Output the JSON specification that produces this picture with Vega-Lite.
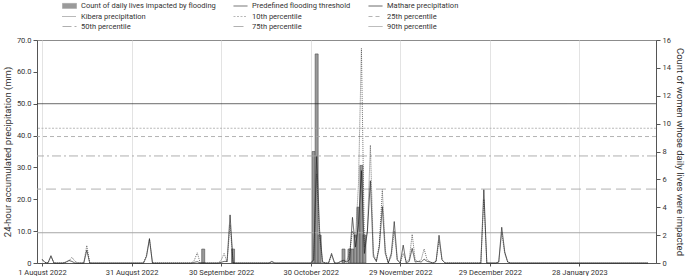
{
  "$schema": "https://vega.github.io/schema/vega-lite/v6.json",
  "width": 619,
  "height": 223,
  "autosize": {"type": "none"},
  "padding": {"left": 37, "top": 40, "right": 29, "bottom": 13},
  "config": {
    "font": "Roboto",
    "view": {"stroke": "#8c8c8c", "strokeWidth": 1},
    "axis": {"labelFontSize": 7.5, "titleFontSize": 9.5, "labelColor": "#333333", "titleColor": "#333333", "titleFontWeight": "normal", "domainColor": "#555555", "tickColor": "#555555", "tickSize": 3, "grid": false},
    "legend": {"orient": "none", "legendX": 27, "legendY": -40, "columns": 3, "direction": "horizontal", "padding": 0, "labelFontSize": 7.5, "labelColor": "#333333", "symbolSize": 100, "labelOffset": 6, "rowPadding": 1, "columnPadding": 15, "labelLimit": 400}
  },
  "datasets": {
    "counts": [
      {"series": "Count of daily lives impacted by flooding", "date": "2022-09-24", "count": 1},
      {"series": "Count of daily lives impacted by flooding", "date": "2022-10-04", "count": 1},
      {"series": "Count of daily lives impacted by flooding", "date": "2022-10-31", "count": 8},
      {"series": "Count of daily lives impacted by flooding", "date": "2022-11-01", "count": 15},
      {"series": "Count of daily lives impacted by flooding", "date": "2022-11-02", "count": 2},
      {"series": "Count of daily lives impacted by flooding", "date": "2022-11-10", "count": 1},
      {"series": "Count of daily lives impacted by flooding", "date": "2022-11-12", "count": 1},
      {"series": "Count of daily lives impacted by flooding", "date": "2022-11-13", "count": 1},
      {"series": "Count of daily lives impacted by flooding", "date": "2022-11-14", "count": 2},
      {"series": "Count of daily lives impacted by flooding", "date": "2022-11-15", "count": 4},
      {"series": "Count of daily lives impacted by flooding", "date": "2022-11-16", "count": 7},
      {"series": "Count of daily lives impacted by flooding", "date": "2022-11-17", "count": 2}
    ],
    "thresholds": [
      {"series": "Predefined flooding threshold", "value": 50},
      {"series": "10th percentile", "value": 42.3},
      {"series": "25th percentile", "value": 39.7},
      {"series": "50th percentile", "value": 33.6},
      {"series": "75th percentile", "value": 23.2},
      {"series": "90th percentile", "value": 9.5}
    ],
    "precip": [
      {"date": "2022-08-01", "Mathare precipitation": 1.2, "Kibera precipitation": 1.0},
      {"date": "2022-08-02", "Mathare precipitation": 0.2, "Kibera precipitation": 0.2},
      {"date": "2022-08-03", "Mathare precipitation": 0, "Kibera precipitation": 0},
      {"date": "2022-08-04", "Mathare precipitation": 2.3, "Kibera precipitation": 2.0},
      {"date": "2022-08-05", "Mathare precipitation": 0, "Kibera precipitation": 0},
      {"date": "2022-08-08", "Mathare precipitation": 0, "Kibera precipitation": 0},
      {"date": "2022-08-09", "Mathare precipitation": 0.3, "Kibera precipitation": 0.2},
      {"date": "2022-08-10", "Mathare precipitation": 0.8, "Kibera precipitation": 0.6},
      {"date": "2022-08-11", "Mathare precipitation": 0.5, "Kibera precipitation": 1.8},
      {"date": "2022-08-12", "Mathare precipitation": 0, "Kibera precipitation": 0.6},
      {"date": "2022-08-13", "Mathare precipitation": 0, "Kibera precipitation": 0},
      {"date": "2022-08-15", "Mathare precipitation": 0, "Kibera precipitation": 0},
      {"date": "2022-08-16", "Mathare precipitation": 4.0, "Kibera precipitation": 5.5},
      {"date": "2022-08-17", "Mathare precipitation": 0, "Kibera precipitation": 0},
      {"date": "2022-09-04", "Mathare precipitation": 0, "Kibera precipitation": 0},
      {"date": "2022-09-05", "Mathare precipitation": 2.0, "Kibera precipitation": 2.5},
      {"date": "2022-09-06", "Mathare precipitation": 7.5, "Kibera precipitation": 7.8},
      {"date": "2022-09-07", "Mathare precipitation": 0, "Kibera precipitation": 0},
      {"date": "2022-09-20", "Mathare precipitation": 0, "Kibera precipitation": 0},
      {"date": "2022-09-21", "Mathare precipitation": 0.2, "Kibera precipitation": 0.8},
      {"date": "2022-09-22", "Mathare precipitation": 0.4, "Kibera precipitation": 3.2},
      {"date": "2022-09-23", "Mathare precipitation": 0, "Kibera precipitation": 0},
      {"date": "2022-09-29", "Mathare precipitation": 0, "Kibera precipitation": 0},
      {"date": "2022-09-30", "Mathare precipitation": 0.2, "Kibera precipitation": 0.8},
      {"date": "2022-10-01", "Mathare precipitation": 0.5, "Kibera precipitation": 3.0},
      {"date": "2022-10-02", "Mathare precipitation": 0.5, "Kibera precipitation": 0.3},
      {"date": "2022-10-03", "Mathare precipitation": 15.1, "Kibera precipitation": 12.0},
      {"date": "2022-10-04", "Mathare precipitation": 0, "Kibera precipitation": 0},
      {"date": "2022-10-16", "Mathare precipitation": 0, "Kibera precipitation": 0},
      {"date": "2022-10-17", "Mathare precipitation": 0.5, "Kibera precipitation": 0.3},
      {"date": "2022-10-18", "Mathare precipitation": 0, "Kibera precipitation": 0},
      {"date": "2022-10-30", "Mathare precipitation": 0, "Kibera precipitation": 0},
      {"date": "2022-10-31", "Mathare precipitation": 1.0, "Kibera precipitation": 0.8},
      {"date": "2022-11-01", "Mathare precipitation": 33.4, "Kibera precipitation": 28.0},
      {"date": "2022-11-02", "Mathare precipitation": 10.0, "Kibera precipitation": 8.0},
      {"date": "2022-11-03", "Mathare precipitation": 0.3, "Kibera precipitation": 0.2},
      {"date": "2022-11-04", "Mathare precipitation": 0, "Kibera precipitation": 0},
      {"date": "2022-11-05", "Mathare precipitation": 0, "Kibera precipitation": 0},
      {"date": "2022-11-06", "Mathare precipitation": 3.0, "Kibera precipitation": 2.5},
      {"date": "2022-11-07", "Mathare precipitation": 0, "Kibera precipitation": 0},
      {"date": "2022-11-08", "Mathare precipitation": 0, "Kibera precipitation": 0},
      {"date": "2022-11-09", "Mathare precipitation": 0.5, "Kibera precipitation": 0.3},
      {"date": "2022-11-10", "Mathare precipitation": 0.8, "Kibera precipitation": 1.0},
      {"date": "2022-11-11", "Mathare precipitation": 0.3, "Kibera precipitation": 0.5},
      {"date": "2022-11-12", "Mathare precipitation": 1.0, "Kibera precipitation": 3.0},
      {"date": "2022-11-13", "Mathare precipitation": 14.3, "Kibera precipitation": 10.0},
      {"date": "2022-11-14", "Mathare precipitation": 5.0, "Kibera precipitation": 8.0},
      {"date": "2022-11-15", "Mathare precipitation": 12.0, "Kibera precipitation": 24.5},
      {"date": "2022-11-16", "Mathare precipitation": 29.0, "Kibera precipitation": 67.4},
      {"date": "2022-11-17", "Mathare precipitation": 3.0, "Kibera precipitation": 5.0},
      {"date": "2022-11-18", "Mathare precipitation": 10.0, "Kibera precipitation": 10.0},
      {"date": "2022-11-19", "Mathare precipitation": 25.8, "Kibera precipitation": 37.0},
      {"date": "2022-11-20", "Mathare precipitation": 2.0, "Kibera precipitation": 3.0},
      {"date": "2022-11-21", "Mathare precipitation": 0.5, "Kibera precipitation": 0.5},
      {"date": "2022-11-22", "Mathare precipitation": 5.0, "Kibera precipitation": 6.0},
      {"date": "2022-11-23", "Mathare precipitation": 17.7, "Kibera precipitation": 23.0},
      {"date": "2022-11-24", "Mathare precipitation": 3.0, "Kibera precipitation": 4.0},
      {"date": "2022-11-25", "Mathare precipitation": 0, "Kibera precipitation": 0},
      {"date": "2022-11-26", "Mathare precipitation": 3.0, "Kibera precipitation": 2.0},
      {"date": "2022-11-27", "Mathare precipitation": 13.0, "Kibera precipitation": 10.0},
      {"date": "2022-11-28", "Mathare precipitation": 1.0, "Kibera precipitation": 1.0},
      {"date": "2022-11-29", "Mathare precipitation": 0, "Kibera precipitation": 0},
      {"date": "2022-11-30", "Mathare precipitation": 5.6, "Kibera precipitation": 3.0},
      {"date": "2022-12-01", "Mathare precipitation": 0, "Kibera precipitation": 0.5},
      {"date": "2022-12-02", "Mathare precipitation": 0.5, "Kibera precipitation": 1.0},
      {"date": "2022-12-03", "Mathare precipitation": 4.6, "Kibera precipitation": 9.0},
      {"date": "2022-12-04", "Mathare precipitation": 0.3, "Kibera precipitation": 1.0},
      {"date": "2022-12-05", "Mathare precipitation": 0.5, "Kibera precipitation": 0.3},
      {"date": "2022-12-06", "Mathare precipitation": 0.3, "Kibera precipitation": 1.0},
      {"date": "2022-12-07", "Mathare precipitation": 1.2, "Kibera precipitation": 4.4},
      {"date": "2022-12-08", "Mathare precipitation": 0.5, "Kibera precipitation": 1.0},
      {"date": "2022-12-09", "Mathare precipitation": 0.3, "Kibera precipitation": 0.3},
      {"date": "2022-12-10", "Mathare precipitation": 0, "Kibera precipitation": 0},
      {"date": "2022-12-11", "Mathare precipitation": 0.5, "Kibera precipitation": 0.5},
      {"date": "2022-12-12", "Mathare precipitation": 8.7, "Kibera precipitation": 7.0},
      {"date": "2022-12-13", "Mathare precipitation": 1.0, "Kibera precipitation": 1.0},
      {"date": "2022-12-14", "Mathare precipitation": 0, "Kibera precipitation": 0},
      {"date": "2022-12-26", "Mathare precipitation": 0, "Kibera precipitation": 0},
      {"date": "2022-12-27", "Mathare precipitation": 23.0, "Kibera precipitation": 20.0},
      {"date": "2022-12-28", "Mathare precipitation": 0, "Kibera precipitation": 0},
      {"date": "2022-12-31", "Mathare precipitation": 0, "Kibera precipitation": 0},
      {"date": "2023-01-01", "Mathare precipitation": 0.3, "Kibera precipitation": 0.3},
      {"date": "2023-01-02", "Mathare precipitation": 11.2, "Kibera precipitation": 9.5},
      {"date": "2023-01-03", "Mathare precipitation": 3.5, "Kibera precipitation": 3.0},
      {"date": "2023-01-04", "Mathare precipitation": 0.3, "Kibera precipitation": 0.3},
      {"date": "2023-01-05", "Mathare precipitation": 0, "Kibera precipitation": 0},
      {"date": "2023-02-20", "Mathare precipitation": 0, "Kibera precipitation": 0}
    ]
  },
  "resolve": {"scale": {"y": "independent"}},
  "layer": [
    {
      "data": {"name": "counts"},
      "mark": {"type": "bar", "width": 3, "stroke": "#4d4d4d", "strokeWidth": 0.6},
      "encoding": {
        "x": {
          "field": "date", "type": "temporal",
          "scale": {"type": "utc", "domain": [1659312000000, 1676937600000]},
          "axis": {
            "orient": "bottom", "title": null, "format": "%-d %B %Y", "labelFlush": false,
            "grid": true, "gridColor": "#dcdcdc", "gridWidth": 0.8, "tickSize": 3,
            "values": [1659312000000, 1661904000000, 1664496000000, 1667088000000, 1669680000000, 1672272000000, 1674864000000]
          }
        },
        "y": {
          "field": "count", "type": "quantitative",
          "scale": {"domain": [0, 16], "nice": false},
          "axis": {"orient": "right", "title": "Count of women whose daily lives were impacted", "values": [0, 2, 4, 6, 8, 10, 12, 14, 16], "tickSize": 4}
        },
        "color": {
          "field": "series", "type": "nominal",
          "scale": {
            "domain": ["Count of daily lives impacted by flooding", "Predefined flooding threshold", "Mathare precipitation", "Kibera precipitation", "10th percentile", "25th percentile", "50th percentile", "75th percentile", "90th percentile"],
            "range": ["#9a9a9a", "#1a1a1a", "#1a1a1a", "#444444", "#a6a6a6", "#a6a6a6", "#a6a6a6", "#adadad", "#a6a6a6"]
          },
          "legend": {
            "title": null,
            "symbolType": "M-1.4,0H1.4",
            "encoding": {
              "labels": {"fill": {"value": "#333333"}},
              "symbols": {
                "shape": {"value": {"expr": "datum.value === 'Count of daily lives impacted by flooding' ? 'M-1.4,-0.5H1.4V0.5H-1.4Z' : 'M-1.4,0H1.4'"}},
                "fill": {"value": {"expr": "datum.value === 'Count of daily lives impacted by flooding' ? '#9a9a9a' : 'transparent'"}},
                "stroke": {"value": {"expr": "datum.value === 'Count of daily lives impacted by flooding' ? '#4d4d4d' : indexof(['Predefined flooding threshold', 'Mathare precipitation'], datum.value) >= 0 ? '#1a1a1a' : datum.value === 'Kibera precipitation' ? '#444444' : '#a6a6a6'"}},
                "strokeWidth": {"value": {"expr": "datum.value === 'Count of daily lives impacted by flooding' ? 0.8 : datum.value === 'Mathare precipitation' ? 2 : indexof(['50th percentile', '75th percentile'], datum.value) >= 0 ? 2 : datum.value === '25th percentile' ? 1.5 : 1.2"}},
                "strokeDash": {"value": {"expr": "datum.value === 'Kibera precipitation' ? [1, 1] : datum.value === '10th percentile' ? [2, 1.5] : datum.value === '25th percentile' ? [4, 3] : datum.value === '50th percentile' ? [9, 3, 2, 3] : datum.value === '75th percentile' ? [10, 5] : [1, 0]"}},
                "opacity": {"value": 1}
              }
            }
          }
        }
      }
    },
    {
      "data": {"name": "thresholds"},
      "mark": {"type": "rule"},
      "encoding": {
        "y": {"field": "value", "type": "quantitative", "scale": {"domain": [0, 70], "nice": false}, "axis": null},
        "color": {"field": "series", "type": "nominal", "legend": null},
        "strokeDash": {
          "field": "series", "type": "nominal",
          "scale": {
            "domain": ["Count of daily lives impacted by flooding", "Predefined flooding threshold", "Mathare precipitation", "Kibera precipitation", "10th percentile", "25th percentile", "50th percentile", "75th percentile", "90th percentile"],
            "range": [[1, 0], [1, 0], [1, 0], [1, 1], [2, 1.5], [4, 3], [9, 3, 2, 3], [10, 5], [1, 0]]
          },
          "legend": null
        },
        "strokeWidth": {
          "field": "series", "type": "nominal",
          "scale": {
            "domain": ["Count of daily lives impacted by flooding", "Predefined flooding threshold", "Mathare precipitation", "Kibera precipitation", "10th percentile", "25th percentile", "50th percentile", "75th percentile", "90th percentile"],
            "range": [0.6, 1, 1.8, 1, 1, 1.5, 2, 2, 1.2]
          },
          "legend": null
        }
      }
    },
    {
      "data": {"name": "precip"},
      "transform": [{"fold": ["Kibera precipitation", "Mathare precipitation"], "as": ["series", "mm"]}],
      "mark": {"type": "line", "strokeJoin": "miter"},
      "encoding": {
        "x": {"field": "date", "type": "temporal"},
        "y": {
          "field": "mm", "type": "quantitative",
          "scale": {"domain": [0, 70], "nice": false},
          "axis": {"orient": "left", "title": "24-hour accumulated precipitation (mm)", "values": [0, 10, 20, 30, 40, 50, 60, 70], "labelExpr": "datum.value === 0 ? '0' : format(datum.value, '.1f')", "tickSize": 4}
        },
        "color": {"field": "series", "type": "nominal", "legend": null},
        "strokeDash": {"field": "series", "type": "nominal", "legend": null},
        "strokeWidth": {"field": "series", "type": "nominal", "legend": null}
      }
    }
  ]
}
